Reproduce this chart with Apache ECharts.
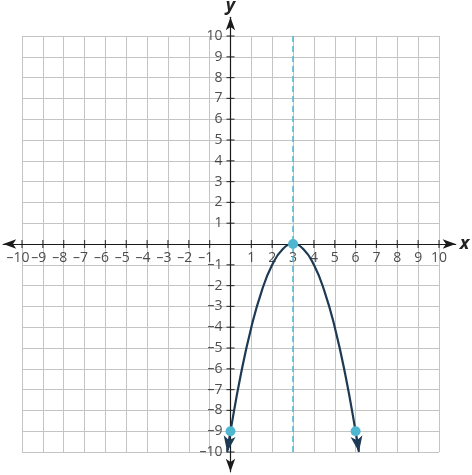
<!DOCTYPE html>
<html>
<head>
<meta charset="utf-8">
<script src="https://cdn.jsdelivr.net/npm/echarts@6/dist/echarts.min.js"></script>
<style>html,body{margin:0;padding:0;background:#fff}#c{width:472px;height:475px}</style>
</head>
<body>
<div id="c"></div>
<script>
// ---- data ----
const tickMin = -10, tickMax = 10, tickStep = 1;
const tickValues = [-10, -9, -8, -7, -6, -5, -4, -3, -2, -1, 1, 2, 3, 4, 5, 6, 7, 8, 9, 10];
const curveX = [-0.14, 0, 0.5, 1, 1.5, 2, 2.5, 3, 3.5, 4, 4.5, 5, 5.5, 6, 6.14];
const curveY = [-9.9, -9, -6.25, -4, -2.25, -1, -0.25, 0, -0.25, -1, -2.25, -4, -6.25, -9, -9.9];
const pointX = [0, 3, 6];
const pointY = [-9, 0, -9];
const symmetryX = 3;
const arrowLeft = [[-0.09, -9.55], [-0.16, -10]];
const arrowRight = [[6.09, -9.55], [6.16, -10]];
const axisExtX = [-10.9, 10.8];
const axisExtY = [-10.95, 10.9];

const FONT = '"Open Sans", "Noto Sans", sans-serif';
const gridColor = '#c4c4c4';
const axisColor = '#1a1a1a';
const textColor = '#222';
const curveColor = '#1d3954';
const accent = '#4fb6cf';

function fmtY(p) {
  const v = p.value[1];
  return v < 0 ? '\u2013' + (-v) : String(v);
}
function fmtX(p) {
  const v = p.value[0];
  return v < 0 ? '{n|\u2013' + (-v) + '}' : '{p|' + v + '}';
}
const labelRich = {
  n: { fontFamily: FONT, fontSize: 14, color: textColor, padding: [0, 8, 0, 0] },
  p: { fontFamily: FONT, fontSize: 14, color: textColor }
};

const curveData = curveX.map((x, i) => [x, curveY[i]]);
const pointData = pointX.map((x, i) => [x, pointY[i]]);
const xTickData = tickValues.map(v => [v, 0]);
const yTickData = tickValues.map(v => [0, v]);

const hiddenAxis = {
  axisLine: { show: false }, axisTick: { show: false }, axisLabel: { show: false }
};

const option = {
  animation: false,
  grid: [
    { left: 22, right: 33, top: 36, bottom: 23, containLabel: false, outerBoundsMode: 'none' },
    { left: 3.2, right: 16.3, top: 17.3, bottom: 3.2, containLabel: false, outerBoundsMode: 'none' }
  ],
  xAxis: [
    Object.assign({
      type: 'value', gridIndex: 0, min: tickMin, max: tickMax, interval: tickStep,
      splitLine: { show: true, lineStyle: { color: gridColor, width: 1 } }
    }, hiddenAxis),
    {
      type: 'value', gridIndex: 1, min: axisExtX[0], max: axisExtX[1],
      axisLine: { show: true, onZero: true, symbol: ['arrow', 'arrow'], symbolSize: [7, 13],
        lineStyle: { color: axisColor, width: 1.2 } },
      axisTick: { show: false }, axisLabel: { show: false }, splitLine: { show: false },
      name: 'x', nameLocation: 'end', nameGap: 4,
      nameTextStyle: { fontFamily: FONT, fontSize: 18, fontWeight: 'bold', fontStyle: 'italic', color: textColor, verticalAlign: 'middle' }
    }
  ],
  yAxis: [
    Object.assign({
      type: 'value', gridIndex: 0, min: tickMin, max: tickMax, interval: tickStep,
      splitLine: { show: true, lineStyle: { color: gridColor, width: 1 } }
    }, hiddenAxis),
    {
      type: 'value', gridIndex: 1, min: axisExtY[0], max: axisExtY[1],
      axisLine: { show: true, onZero: true, symbol: ['arrow', 'arrow'], symbolSize: [7, 13],
        lineStyle: { color: axisColor, width: 1.2 } },
      axisTick: { show: false }, axisLabel: { show: false }, splitLine: { show: false },
      name: 'y', nameLocation: 'end', nameGap: 2,
      nameTextStyle: { fontFamily: FONT, fontSize: 18, fontWeight: 'bold', fontStyle: 'italic', color: textColor }
    }
  ],
  series: [
    {
      // x-axis ticks + labels
      type: 'scatter', xAxisIndex: 0, yAxisIndex: 0, silent: true, z: 3,
      data: xTickData, symbol: 'rect', symbolSize: [1.2, 8],
      itemStyle: { color: axisColor },
      label: { show: true, position: 'bottom', distance: 3, formatter: fmtX, rich: labelRich,
        fontFamily: FONT, fontSize: 14, color: textColor }
    },
    {
      // y-axis ticks + labels
      type: 'scatter', xAxisIndex: 0, yAxisIndex: 0, silent: true, z: 3,
      data: yTickData, symbol: 'rect', symbolSize: [8, 1.2],
      itemStyle: { color: axisColor },
      label: { show: true, position: 'left', distance: 4, formatter: fmtY,
        fontFamily: FONT, fontSize: 14, color: textColor }
    },
    {
      type: 'line', xAxisIndex: 0, yAxisIndex: 0,
      data: [], silent: true,
      markLine: {
        silent: true, symbol: ['none', 'none'], label: { show: false },
        lineStyle: { color: accent, width: 1.5, type: [6, 4] },
        data: [{ xAxis: symmetryX }]
      }
    },
    {
      type: 'line', xAxisIndex: 0, yAxisIndex: 0, z: 4,
      data: curveData, smooth: true, showSymbol: false, silent: true,
      lineStyle: { color: curveColor, width: 2.2 },
      markLine: {
        silent: true, symbol: ['none', 'arrow'], symbolSize: [9, 16], label: { show: false },
        lineStyle: { color: curveColor, width: 2.2, type: 'solid' },
        data: [
          [{ coord: arrowLeft[0] }, { coord: arrowLeft[1] }],
          [{ coord: arrowRight[0] }, { coord: arrowRight[1] }]
        ]
      }
    },
    {
      type: 'scatter', xAxisIndex: 0, yAxisIndex: 0,
      data: pointData, symbolSize: 10, silent: true,
      itemStyle: { color: accent, opacity: 1 }, z: 5
    }
  ]
};
echarts.init(document.getElementById('c'), null, { renderer: 'canvas' }).setOption(option);
</script>
</body>
</html>
